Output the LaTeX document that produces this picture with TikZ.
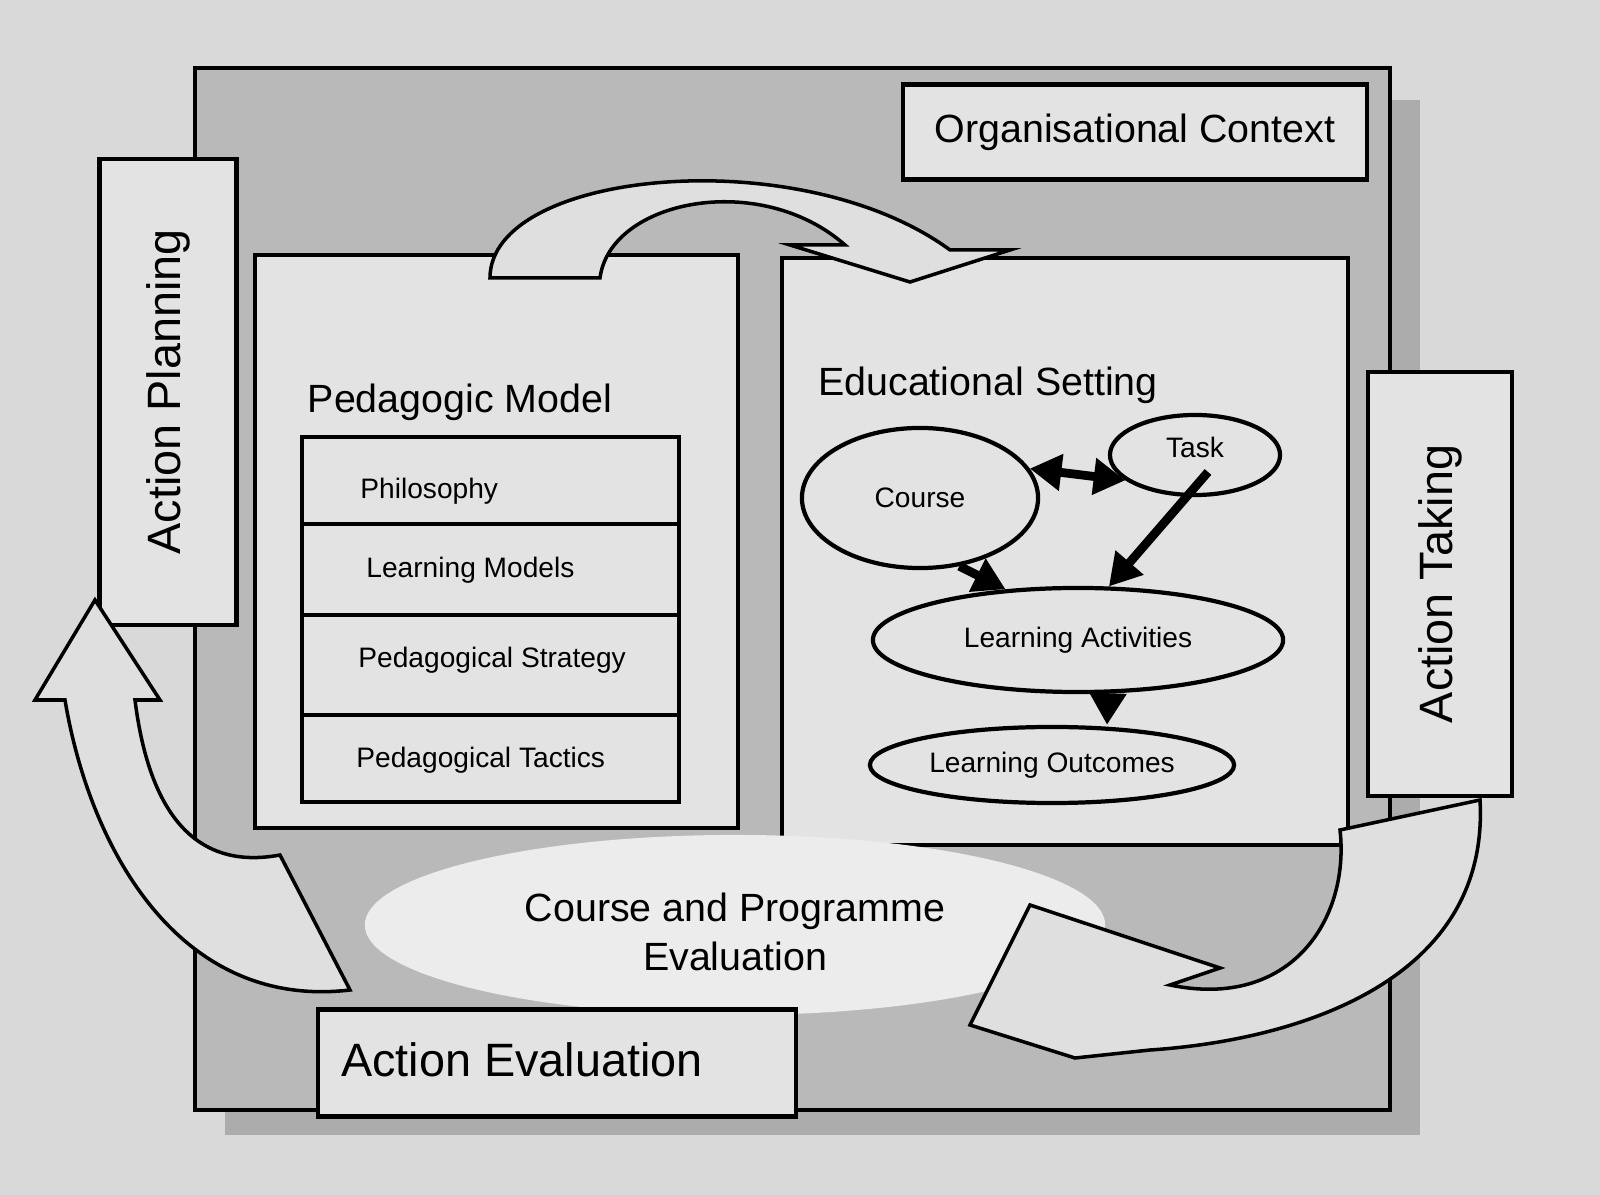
\documentclass[tikz,border=0pt]{standalone}
\usepackage{fontspec}
\setmainfont{Liberation Sans}
\usetikzlibrary{shapes.geometric,arrows.meta}
\tikzset{
  plainbox/.style={draw,line width=1.2pt,fill=gray!22},
  rowbox/.style={draw,line width=1.2pt,fill=gray!22,minimum width=3.77cm,anchor=north west,inner sep=0pt},
  bubble/.style={draw,line width=1.2pt,ellipse,fill=gray!22,inner sep=0pt},
  bigarrow/.style={draw,line width=1pt,fill=gray!25},
  flow/.style={line width=2.5pt,-{Triangle[length=9pt,width=10pt]}},
  biglabel/.style={font=\fontsize{11.2}{14}\selectfont},
  sidelabel/.style={font=\fontsize{13.3}{15}\selectfont},
  smalllabel/.style={font=\fontsize{8}{10}\selectfont},
}
\begin{document}
\begin{tikzpicture}[x=0.01cm,y=-0.01cm]
  \fill[gray!30] (0,0) rectangle (1600,1195);
  \useasboundingbox (0,0) rectangle (1600,1195);
  % organisational frame with shadow
  \fill[gray!65] (225,100) rectangle (1420,1135);
  \draw[line width=1.2pt,fill=gray!55] (195,68) rectangle (1390,1110);
  \node[plainbox,biglabel,minimum width=4.64cm,minimum height=0.95cm] (org) at (1135,132) {Organisational Context};
  % pedagogic model
  \draw[plainbox] (255,255) rectangle (738,828);
  \node[biglabel] (pm) at (460,402) {Pedagogic Model};
  \node[rowbox,minimum height=0.87cm] (phil) at (300,435) {};
  \node[smalllabel,anchor=west] at (348,491) {Philosophy};
  \node[rowbox,minimum height=0.91cm] (lm) at (300,522) {};
  \node[smalllabel,anchor=west] at (354,570) {Learning Models};
  \node[rowbox,minimum height=1.0cm] (ps) at (300,613) {};
  \node[smalllabel,anchor=west] at (346,660) {Pedagogical Strategy};
  \node[rowbox,minimum height=0.87cm] (pt) at (300,713) {};
  \node[smalllabel,anchor=west] at (344,760) {Pedagogical Tactics};
  % educational setting
  \draw[plainbox] (782,258) rectangle (1348,845);
  \node[biglabel] (es) at (988,385) {Educational Setting};
  \node[bubble,smalllabel,minimum width=2.36cm,minimum height=1.4cm] (crs) at (920,498) {Course};
  \node[bubble,smalllabel,minimum width=1.7cm,minimum height=0.8cm] (tsk) at (1195,455) {\raisebox{1ex}{Task}};
  \node[bubble,smalllabel,minimum width=4.1cm,minimum height=1.04cm] (la) at (1078,640) {Learning Activities};
  \node[bubble,smalllabel,minimum width=3.64cm,minimum height=0.76cm] (lo) at (1052,765) {Learning Outcomes};
  \draw[line width=2.5pt,{Triangle[length=9pt,width=10pt]}-{Triangle[length=9pt,width=10pt]}] (crs.15) -- (tsk.200);
  \draw[flow] (crs.300) -- (la.145);
  \draw[flow] (1208,472) -- (la.60);
  \draw[flow] ([xshift=0.3cm]la.south) -- ([xshift=0.55cm]lo.north);
  % top arrow
  \draw[bigarrow] (490,278) .. controls (490,170) and (800,140) .. (950,250)
    -- (1010,250) -- (910,282) -- (790,245) -- (845,245)
    .. controls (760,170) and (610,200) .. (600,278) -- cycle;
  % side boxes
  \node[plainbox,minimum width=1.37cm,minimum height=4.65cm] (ap) at (168,392) {};
  \node[sidelabel,rotate=90] at (ap.center) {Action Planning};
  \node[plainbox,minimum width=1.44cm,minimum height=4.24cm] (at) at (1440,584) {};
  \node[sidelabel,rotate=90] at (at.center) {Action Taking};
  % evaluation
  \node[ellipse,fill=gray!15,minimum width=7.4cm,minimum height=1.8cm] (cpe) at (735,925) {};
  \node[biglabel,align=center] at (735,932) {Course and Programme\\Evaluation};
  \node[plainbox,minimum width=4.78cm,minimum height=1.07cm] (ae) at (557,1063) {};
  \node[sidelabel] at (522,1060) {Action Evaluation};
  % left arrow
  \draw[bigarrow] (350,990) .. controls (180,1010) and (90,850) .. (65,700)
    -- (35,700) -- (95,600) -- (160,700) -- (135,700)
    .. controls (150,820) and (200,870) .. (280,855) -- cycle;
  % right arrow
  \draw[bigarrow] (1340,830) -- (1480,800) .. controls (1490,980) and (1300,1040) .. (1150,1050)
    -- (1075,1058) -- (970,1025) -- (1030,905) -- (1220,968) -- (1170,985)
    .. controls (1290,1010) and (1350,920) .. (1340,830) -- cycle;
\end{tikzpicture}
\end{document}
